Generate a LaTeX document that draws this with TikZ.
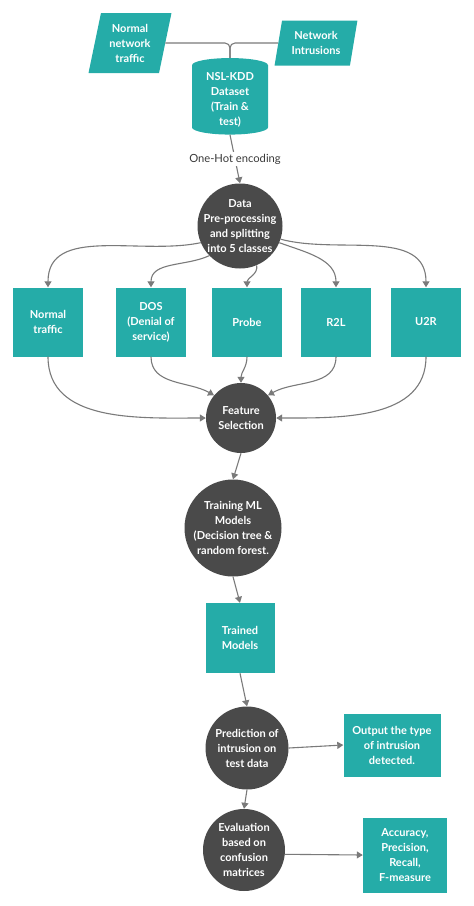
\documentclass[tikz,border=0pt]{standalone}
\usepackage{fontspec}
\setmainfont{Lato}
\usetikzlibrary{shapes.geometric,arrows.meta}
\definecolor{tealbox}{HTML}{25ACA8}
\definecolor{darkdisc}{HTML}{4A4A4A}
\definecolor{linkgray}{HTML}{7A7A7A}
\definecolor{labelgray}{HTML}{3A3A3A}

\begin{document}
\begin{tikzpicture}[x=1pt,y=1pt,
        white text/.style={text=white, font=\bfseries\fontsize{11}{15}\selectfont},
        teal box/.style={fill=tealbox, white text, align=center, inner sep=0pt},
        teal para/.style={teal box, trapezium, trapezium left angle=77, trapezium right angle=103,
                          trapezium stretches=true},
        dark disc/.style={circle, fill=darkdisc, white text, align=center, inner sep=-15pt},
        link/.style={draw=linkgray, line width=1.1pt, -{Triangle[width=7pt,length=6pt]}},
        join line/.style={draw=linkgray, line width=1.1pt, rounded corners=5pt}]
        \useasboundingbox (0,0) rectangle (474,-906);

        % inputs and dataset
        \node[teal para, minimum width=83, minimum height=60] (normal) at (130,-43) {Normal\\network\\traffic};
        \node[teal para, minimum width=83, minimum height=45] (intr)   at (316,-43) {Network\\Intrusions};
        \node[teal box, cylinder, shape border rotate=90, shape aspect=.3,
              minimum width=76, minimum height=76] (nsl) at (230,-100) {NSL-KDD\\Dataset\\(Train \&\\test)};
        \draw[join line] (normal.east) -| (nsl.north);
        \draw[join line] (intr.west)   -| (nsl.north);

        % pre-processing
        \node[dark disc, minimum size=85] (data) at (240,-226) {Data\\Pre-processing\\and splitting\\into 5 classes};
        \draw[link] (nsl.south) -- node[fill=white, text=labelgray, inner sep=2pt,
              font=\fontsize{11.2}{13}\selectfont] (ohe) {One-Hot encoding} (data.north);

        % classes
        \node[teal box, minimum width=70, minimum height=69] (normtr) at (48,-322)  {Normal\\traffic};
        \node[teal box, minimum width=70, minimum height=69] (dos)    at (151,-322) {DOS\\(Denial of\\service)};
        \node[teal box, minimum width=70, minimum height=69] (probe)  at (247,-322) {Probe};
        \node[teal box, minimum width=70, minimum height=69] (rtl)    at (336,-322) {R2L};
        \node[teal box, minimum width=70, minimum height=69] (utr)    at (426,-322) {U2R};

        \draw[link] (data.203) to[out=192,in=90] (normtr.north);
        \draw[link] (data.224) to[out=205,in=90] (dos.north);
        \draw[link] (data.293) to[out=-80,in=90] (probe.north);
        \draw[link] (data.337) to[out=-20,in=90] (rtl.north);
        \draw[link] (data.342) to[out=-15,in=90] (utr.north);

        % feature selection
        \node[dark disc, minimum size=70] (fsel) at (241,-418) {Feature\\Selection};
        \draw[link] (normtr.south) to[out=-90,in=180] (fsel.west);
        \draw[link] (dos.south)    to[out=-90,in=150] (fsel.140);
        \draw[link] (probe.south)  to[out=-90,in=90]  (fsel.north);
        \draw[link] (rtl.south)    to[out=-90,in=30]  (fsel.40);
        \draw[link] (utr.south)    to[out=-90,in=0]   (fsel.east);

        % training and testing
        \node[dark disc, minimum size=97] (train) at (233,-528) {Training ML\\Models\\(Decision tree \&\\random forest.};
        \node[teal box, minimum width=69, minimum height=70] (trained) at (240,-638) {Trained\\Models};
        \node[dark disc, minimum size=83] (pred) at (247,-748) {Prediction of\\intrusion on\\test data};
        \node[teal box, minimum width=97, minimum height=63] (outp) at (392,-745) {Output the type\\of intrusion\\detected.};
        \node[dark disc, minimum size=82] (eval) at (244,-850) {Evaluation\\based on\\confusion\\matrices};
        \node[teal box, minimum width=84, minimum height=75] (metr) at (405,-855) {Accuracy,\\Precision,\\Recall,\\F-measure};

        \draw[link] (fsel.south)    -- (train.north);
        \draw[link] (train.south)   -- (trained.north);
        \draw[link] (trained.south) -- (pred.north);
        \draw[link] (pred.east)     -- (outp.west);
        \draw[link] (pred.south)    -- (eval.north);
        \draw[link] (eval.-6)       -- (metr.west);
      \end{tikzpicture}
\end{document}
